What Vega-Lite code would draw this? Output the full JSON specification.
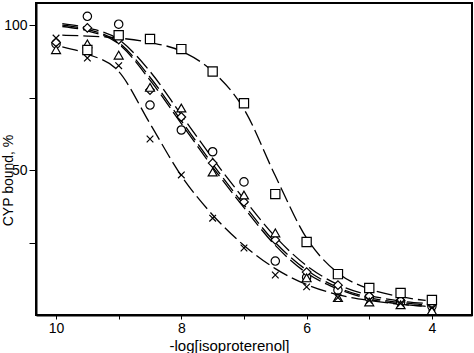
{
  "$schema": "https://vega.github.io/schema/vega-lite/v6.json",
  "width": 436,
  "height": 312,
  "autosize": "none",
  "padding": {"left": 36, "top": 3, "right": 2, "bottom": 38},
  "background": "white",
  "config": {
    "view": {"stroke": "black", "strokeWidth": 2},
    "axis": {"grid": false, "domainColor": "black", "domainWidth": 2, "tickColor": "black", "labelColor": "black", "titleColor": "black", "labelFont": "Liberation Sans", "titleFont": "Liberation Sans", "labelFontSize": 14, "titleFontSize": 14, "titleFontWeight": "normal"}
  },
  "datasets": {
    "pts": [
      {"x": 10, "y": 93.5, "s": "circle"}, {"x": 9.5, "y": 103, "s": "circle"}, {"x": 9, "y": 100.3, "s": "circle"}, {"x": 8.5, "y": 72.4, "s": "circle"}, {"x": 8, "y": 63.8, "s": "circle"}, {"x": 7.5, "y": 56.3, "s": "circle"}, {"x": 7, "y": 45.9, "s": "circle"}, {"x": 6.5, "y": 18.6, "s": "circle"}, {"x": 6, "y": 13, "s": "circle"}, {"x": 5.5, "y": 8.6, "s": "circle"}, {"x": 5, "y": 6, "s": "circle"}, {"x": 4.5, "y": 4.5, "s": "circle"}, {"x": 4, "y": 3, "s": "circle"},
      {"x": 10, "y": 94, "s": "diamond"}, {"x": 9.5, "y": 99, "s": "diamond"}, {"x": 9, "y": 95, "s": "diamond"}, {"x": 8.5, "y": 77.6, "s": "diamond"}, {"x": 8, "y": 68.3, "s": "diamond"}, {"x": 7.5, "y": 52.4, "s": "diamond"}, {"x": 7, "y": 39, "s": "diamond"}, {"x": 6.5, "y": 25.9, "s": "diamond"}, {"x": 6, "y": 14.8, "s": "diamond"}, {"x": 5.5, "y": 10.3, "s": "diamond"}, {"x": 5, "y": 6.5, "s": "diamond"}, {"x": 4.5, "y": 5, "s": "diamond"}, {"x": 4, "y": 3.5, "s": "diamond"},
      {"x": 10, "y": 91.5, "s": "triangle"}, {"x": 9.5, "y": 93.5, "s": "triangle"}, {"x": 9, "y": 89.6, "s": "triangle"}, {"x": 8.5, "y": 78.5, "s": "triangle"}, {"x": 8, "y": 71.4, "s": "triangle"}, {"x": 7.5, "y": 49.3, "s": "triangle"}, {"x": 7, "y": 41.4, "s": "triangle"}, {"x": 6.5, "y": 28.3, "s": "triangle"}, {"x": 6, "y": 12.8, "s": "triangle"}, {"x": 5.5, "y": 6, "s": "triangle"}, {"x": 5, "y": 4.5, "s": "triangle"}, {"x": 4.5, "y": 3.5, "s": "triangle"}, {"x": 4, "y": 1.5, "s": "triangle"},
      {"x": 9.5, "y": 91.4, "s": "square"}, {"x": 9, "y": 96.5, "s": "square"}, {"x": 8.5, "y": 95.2, "s": "square"}, {"x": 8, "y": 91.7, "s": "square"}, {"x": 7.5, "y": 84, "s": "square"}, {"x": 7, "y": 73, "s": "square"}, {"x": 6.5, "y": 41.7, "s": "square"}, {"x": 6, "y": 25.2, "s": "square"}, {"x": 5.5, "y": 14.1, "s": "square"}, {"x": 5, "y": 9.3, "s": "square"}, {"x": 4.5, "y": 7.6, "s": "square"}, {"x": 4, "y": 5.2, "s": "square"},
      {"x": 10, "y": 95.5, "s": "cross"}, {"x": 9.5, "y": 88.6, "s": "cross"}, {"x": 9, "y": 86, "s": "cross"}, {"x": 8.5, "y": 60.7, "s": "cross"}, {"x": 8, "y": 48.3, "s": "cross"}, {"x": 7.5, "y": 33.4, "s": "cross"}, {"x": 7, "y": 23.1, "s": "cross"}, {"x": 6.5, "y": 13.8, "s": "cross"}, {"x": 6, "y": 9.7, "s": "cross"}, {"x": 5.5, "y": 6, "s": "cross"}, {"x": 5, "y": 5, "s": "cross"}, {"x": 4.5, "y": 4, "s": "cross"}, {"x": 4, "y": 2.5, "s": "cross"}
    ],
    "fits": [
      {"x": 9.9, "y": 100, "c": "circle"}, {"x": 9.5, "y": 98.5, "c": "circle"}, {"x": 9, "y": 94, "c": "circle"}, {"x": 8.5, "y": 82, "c": "circle"}, {"x": 8, "y": 67, "c": "circle"}, {"x": 7.5, "y": 52, "c": "circle"}, {"x": 7, "y": 38, "c": "circle"}, {"x": 6.5, "y": 25, "c": "circle"}, {"x": 6, "y": 15.5, "c": "circle"}, {"x": 5.5, "y": 9.5, "c": "circle"}, {"x": 5, "y": 6, "c": "circle"}, {"x": 4.5, "y": 4.3, "c": "circle"}, {"x": 4.1, "y": 3.5, "c": "circle"},
      {"x": 9.9, "y": 100.5, "c": "diamond"}, {"x": 9.5, "y": 99, "c": "diamond"}, {"x": 9, "y": 95, "c": "diamond"}, {"x": 8.5, "y": 84, "c": "diamond"}, {"x": 8, "y": 69, "c": "diamond"}, {"x": 7.5, "y": 54, "c": "diamond"}, {"x": 7, "y": 40, "c": "diamond"}, {"x": 6.5, "y": 27, "c": "diamond"}, {"x": 6, "y": 17, "c": "diamond"}, {"x": 5.5, "y": 10.5, "c": "diamond"}, {"x": 5, "y": 6.8, "c": "diamond"}, {"x": 4.5, "y": 4.8, "c": "diamond"}, {"x": 4.1, "y": 4, "c": "diamond"},
      {"x": 9.9, "y": 99.5, "c": "triangle"}, {"x": 9.5, "y": 98, "c": "triangle"}, {"x": 9, "y": 93.5, "c": "triangle"}, {"x": 8.5, "y": 81, "c": "triangle"}, {"x": 8, "y": 66, "c": "triangle"}, {"x": 7.5, "y": 51, "c": "triangle"}, {"x": 7, "y": 37, "c": "triangle"}, {"x": 6.5, "y": 24, "c": "triangle"}, {"x": 6, "y": 14.5, "c": "triangle"}, {"x": 5.5, "y": 9, "c": "triangle"}, {"x": 5, "y": 5.5, "c": "triangle"}, {"x": 4.5, "y": 3.8, "c": "triangle"}, {"x": 4.1, "y": 3, "c": "triangle"},
      {"x": 9.9, "y": 96.5, "c": "square"}, {"x": 9.5, "y": 96.2, "c": "square"}, {"x": 9, "y": 95.5, "c": "square"}, {"x": 8.5, "y": 94, "c": "square"}, {"x": 8, "y": 91, "c": "square"}, {"x": 7.5, "y": 84, "c": "square"}, {"x": 7, "y": 71, "c": "square"}, {"x": 6.5, "y": 48, "c": "square"}, {"x": 6, "y": 26.5, "c": "square"}, {"x": 5.5, "y": 14.5, "c": "square"}, {"x": 5, "y": 9, "c": "square"}, {"x": 4.5, "y": 6.3, "c": "square"}, {"x": 4.1, "y": 5, "c": "square"},
      {"x": 9.9, "y": 92.5, "c": "cross"}, {"x": 9.5, "y": 90, "c": "cross"}, {"x": 9, "y": 84, "c": "cross"}, {"x": 8.5, "y": 66, "c": "cross"}, {"x": 8, "y": 48, "c": "cross"}, {"x": 7.5, "y": 34.5, "c": "cross"}, {"x": 7, "y": 24, "c": "cross"}, {"x": 6.5, "y": 16, "c": "cross"}, {"x": 6, "y": 10.5, "c": "cross"}, {"x": 5.5, "y": 7, "c": "cross"}, {"x": 5, "y": 5, "c": "cross"}, {"x": 4.5, "y": 3.7, "c": "cross"}, {"x": 4.1, "y": 3, "c": "cross"}
    ]
  },
  "layer": [
    {
      "data": {"name": "fits"},
      "mark": {"type": "line", "interpolate": "monotone", "stroke": "black", "strokeWidth": 1.3, "strokeDash": [16, 5]},
      "encoding": {
        "x": {"field": "x", "type": "quantitative", "scale": {"domain": [10.32, 3.36], "nice": false, "zero": false},
          "axis": {"values": [10, 9, 8, 7, 6, 5, 4], "format": "d", "labelExpr": "datum.value % 2 == 0 ? datum.label : ''", "tickSize": 4, "labelPadding": 2, "title": "-log[isoproterenol]", "titleFontSize": 15, "titleX": 193, "titleY": 35, "titleBaseline": "alphabetic"}},
        "y": {"field": "y", "type": "quantitative", "scale": {"domain": [0, 107.6], "nice": false},
          "axis": {"values": [25, 50, 75, 100], "format": "d", "labelExpr": "datum.value % 50 == 0 ? datum.label : ''", "tickSize": 7, "labelPadding": 2, "title": "CYP bound, %", "titleX": -21, "titleY": 177, "titleAngle": -90, "titleAlign": "center", "titleBaseline": "bottom"}},
        "detail": {"field": "c"}
      }
    },
    {
      "data": {"name": "pts"},
      "mark": {"type": "point", "filled": true, "fill": "white", "stroke": "black", "strokeWidth": 1.2, "opacity": 1},
      "encoding": {
        "x": {"field": "x", "type": "quantitative"},
        "y": {"field": "y", "type": "quantitative"},
        "shape": {"field": "s", "type": "nominal", "legend": null,
          "scale": {"domain": ["circle", "diamond", "triangle", "square", "cross"], "range": ["circle", "diamond", "triangle-up", "square", "M-0.7,-0.7L0.7,0.7M-0.7,0.7L0.7,-0.7"]}},
        "size": {"field": "s", "type": "nominal", "legend": null,
          "scale": {"domain": ["circle", "diamond", "triangle", "square", "cross"], "range": [70, 90, 80, 80, 70]}}
      }
    }
  ]
}
